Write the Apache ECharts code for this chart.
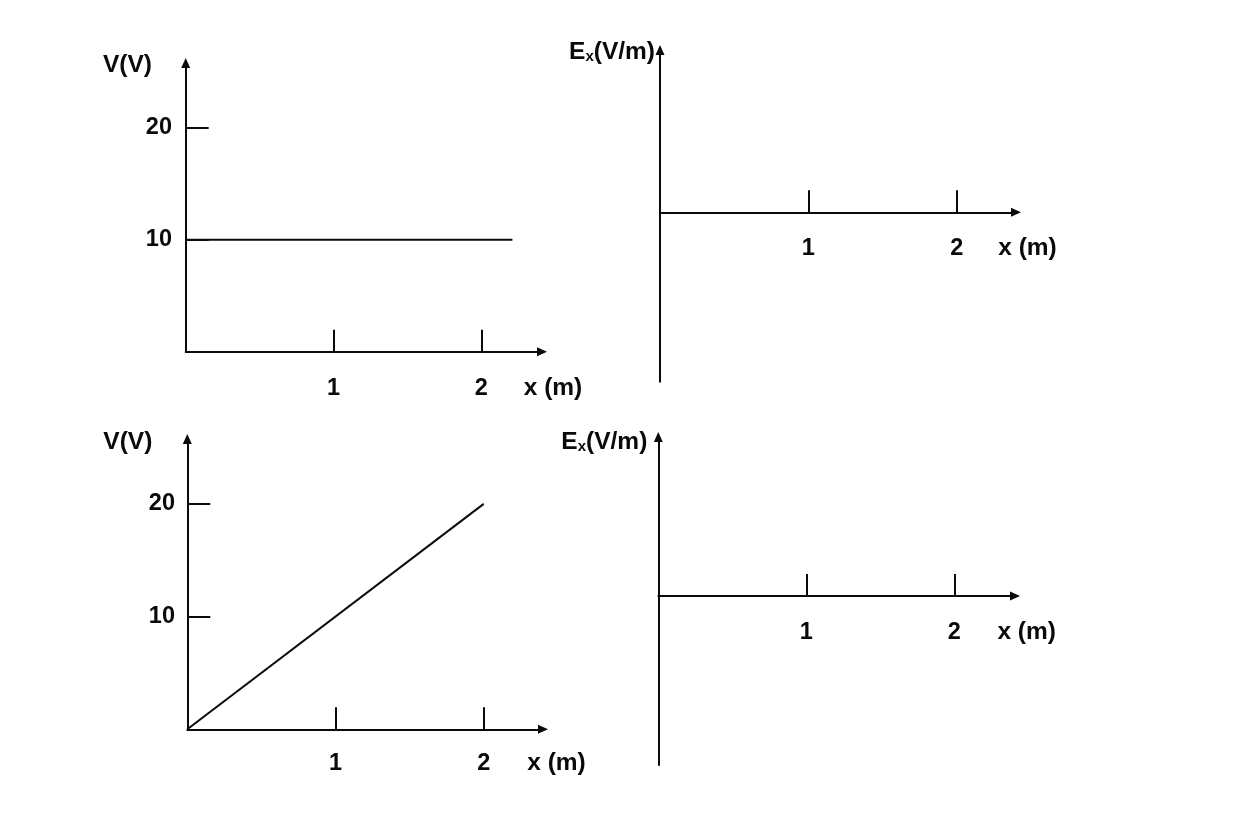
<!DOCTYPE html>
<html>
<head>
<meta charset="utf-8">
<script src="https://cdn.jsdelivr.net/npm/echarts@6/dist/echarts.min.js"></script>
<style>
html,body{margin:0;padding:0;background:#fff;}
#c{width:1259px;height:818px;}
</style>
</head>
<body>
<div id="c"></div>
<script>
// ---- data ----
const xTickValues = [1, 2];          // x (m) tick marks
const vTickValues = [10, 20];        // V(V) tick marks
const constX = [0, 2.21];            // top-left: constant potential
const constV = [10, 10];
const linX = [0, 2];                 // bottom-left: linear potential
const linV = [0, 20];
const vName = 'V(V)';
const eName = 'E{s|x}(V/m)';
const xName = '{n|x (m)}';

const FONT = 'Liberation Sans';
const INK = '#0a0a0a';

const grids = [
  {left: 185.7, top: 63,  width: 356.3, height: 288.7},
  {left: 660,   top: 50,  width: 356,   height: 331.7},
  {left: 187.3, top: 439, width: 355.7, height: 290.3},
  {left: 658.3, top: 437, width: 356.7, height: 328}
];

const axisLineBase = {
  show: true, onZero: false,
  symbol: ['none', 'triangle'], symbolSize: [9, 10],
  lineStyle: {color: INK, width: 2}
};
const labelFont = {fontFamily: FONT, fontWeight: 'bold', fontSize: 23.5, color: INK};
const nameFont = {fontFamily: FONT, fontWeight: 'bold', fontSize: 24.5, color: INK};

function makeX(gi, max, offset, margin, gap, padTop) {
  return {
    type: 'value', gridIndex: gi, min: 0, max: max,
    position: 'bottom', offset: offset,
    axisLine: axisLineBase,
    splitLine: {show: false},
    axisTick: {show: true, inside: true, length: 22, customValues: xTickValues,
               lineStyle: {color: INK, width: 2}},
    axisLabel: Object.assign({show: true, margin: margin, customValues: xTickValues}, labelFont),
    name: xName, nameLocation: 'end', nameGap: gap,
    nameTextStyle: Object.assign({align: 'center', verticalAlign: 'middle',
      rich: {n: Object.assign({padding: [padTop, 0, 0, 0]}, nameFont)}}, nameFont)
  };
}
function makeY(gi, min, max, withTicks, name, gap, padRight, margin) {
  return {
    type: 'value', gridIndex: gi, min: min, max: max,
    axisLine: axisLineBase,
    splitLine: {show: false},
    axisTick: withTicks ? {show: true, inside: true, length: 23, customValues: vTickValues,
               lineStyle: {color: INK, width: 2}} : {show: false},
    axisLabel: withTicks ? Object.assign({show: true, margin: margin, customValues: vTickValues}, labelFont) : {show: false},
    name: name, nameLocation: 'end', nameGap: gap,
    nameTextStyle: Object.assign({align: 'right', verticalAlign: 'middle', padding: [0, padRight, 0, 0],
      rich: {s: {fontFamily: FONT, fontWeight: 'bold', fontSize: 15, color: INK, verticalAlign: 'bottom', padding: [9, 0, 0, 0]}}}, nameFont)
  };
}

const chart = echarts.init(document.getElementById('c'), null, {renderer: 'canvas'});
chart.setOption({
  animation: false,
  backgroundColor: '#fff',
  grid: grids,
  xAxis: [
    makeX(0, 2.41, 0, 24.5, 11, 72.6),
    makeX(1, 2.40, -169.4, 24, 11.5, 71.4),
    makeX(2, 2.40, 0, 22, 13.5, 67.4),
    makeX(3, 2.41, -169, 24.3, 11.7, 72)
  ],
  yAxis: [
    makeY(0, 0, 25.8, true, vName, -2, 33.7, 13.7),
    makeY(1, -10.44, 10, false, eName, -2, 5, 0),
    makeY(2, 0, 25.76, true, vName, -3, 35, 12.3),
    makeY(3, -10.63, 10, false, eName, -5, 11, 0)
  ],
  series: [
    {type: 'line', xAxisIndex: 0, yAxisIndex: 0, symbol: 'none',
     lineStyle: {color: INK, width: 2},
     data: constX.map((x, i) => [x, constV[i]])},
    {type: 'line', xAxisIndex: 2, yAxisIndex: 2, symbol: 'none',
     lineStyle: {color: INK, width: 2},
     data: linX.map((x, i) => [x, linV[i]])}
  ]
});
</script>
</body>
</html>
